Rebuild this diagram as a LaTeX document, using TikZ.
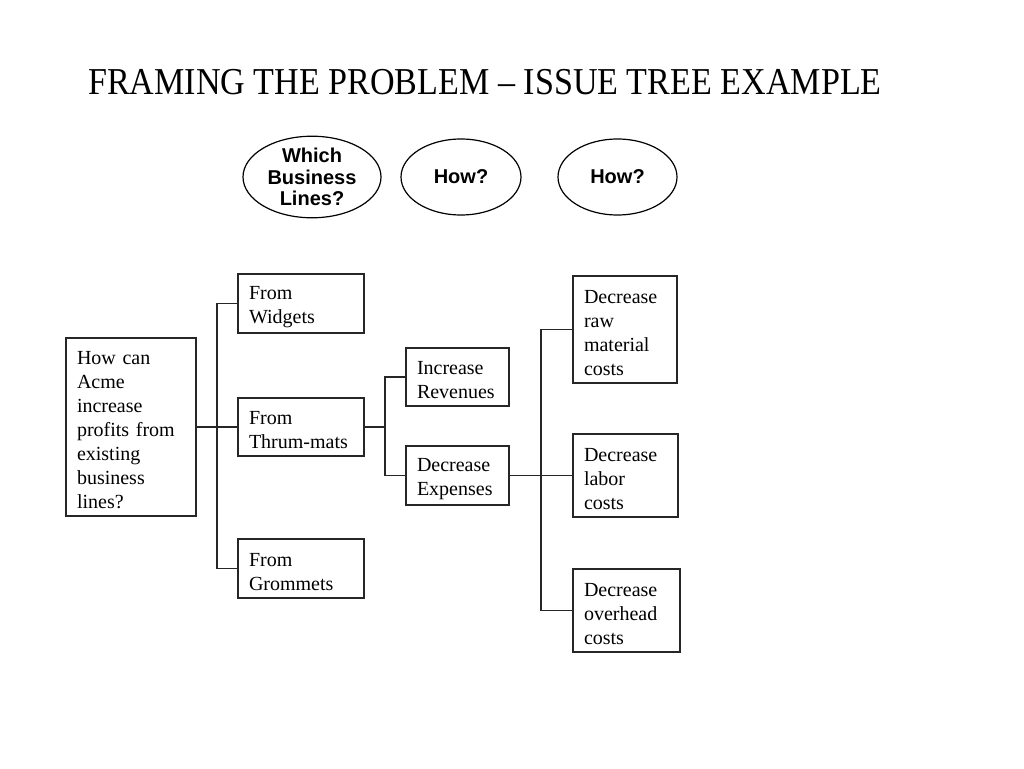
\documentclass[tikz,border=0pt]{standalone}
\usepackage{fontspec}
\setmainfont{Liberation Serif}
\newfontfamily\arialfont{Liberation Sans}
\usetikzlibrary{shapes.geometric}
\tikzset{
  box/.style={draw=black!85, line width=1.2pt, rectangle, inner xsep=11pt, inner ysep=0pt,
    align=left, font=\fontsize{20}{24}\selectfont,
    execute at begin node={\rule{0pt}{19.5pt}}},
  oval/.style={draw=black, line width=1.2pt, ellipse, inner sep=0pt, align=center,
    font=\arialfont\bfseries\fontsize{20}{21.5}\selectfont},
  link/.style={draw=black!85, line width=1.2pt}
}
\begin{document}
\begin{tikzpicture}[x=1pt,y=-1pt]
\useasboundingbox[fill=white] (0,0) rectangle (1024,768);
\node[anchor=base west, inner sep=0pt, font=\fontsize{38}{44}\selectfont] (title) at (88,94)
  {\scalebox{0.897}[1]{FRAMING THE PROBLEM -- ISSUE TREE EXAMPLE}};
% ovals
\node[oval, minimum width=138pt, minimum height=76pt] (e1) at (312,177) {Which\\Business\\Lines?};
\node[oval, minimum width=120pt, minimum height=76pt] (e2) at (461,177) {How?};
\node[oval, minimum width=119pt, minimum height=76pt] (e3) at (617.5,177) {How?};
% boxes
\node[box, text width=108pt, minimum height=178pt] (root) at (131,427)
  {How can\\Acme\\increase\\profits from\\existing\\business\\lines?};
\node[box, text width=104pt, minimum height=59pt] (w) at (301,303.5) {From\\Widgets};
\node[box, text width=104pt, minimum height=58pt] (t) at (301,427) {From\\Thrum-mats};
\node[box, text width=104pt, minimum height=59pt] (g) at (301,568.5) {From\\Grommets};
\node[box, text width=81pt, minimum height=58pt] (rev) at (457.5,377) {Increase\\Revenues};
\node[box, text width=81pt, minimum height=59pt] (exp) at (457.5,475.5) {Decrease\\Expenses};
\node[box, text width=82pt, minimum height=107pt] (raw) at (625,329.5) {Decrease\\raw\\material\\costs};
\node[box, text width=83pt, minimum height=83pt] (lab) at (625.5,475.5) {Decrease\\labor\\costs};
\node[box, text width=85pt, minimum height=83pt] (ovh) at (626.5,610.5) {Decrease\\overhead\\costs};
% junctions
\coordinate (j1) at (217,427);
\coordinate (j2) at (385,427);
\coordinate (j3) at (541,475.5);
% connectors
\draw[link] (root.east) -- (t.west);
\draw[link] (w.west) -| (j1) |- (g.west);
\draw[link] (t.east) -- (j2);
\draw[link] (rev.west) -| (j2) |- (exp.west);
\draw[link] (exp.east) -- (lab.west);
\draw[link] (raw.west) -| (j3) |- (ovh.west);
\end{tikzpicture}
\end{document}
